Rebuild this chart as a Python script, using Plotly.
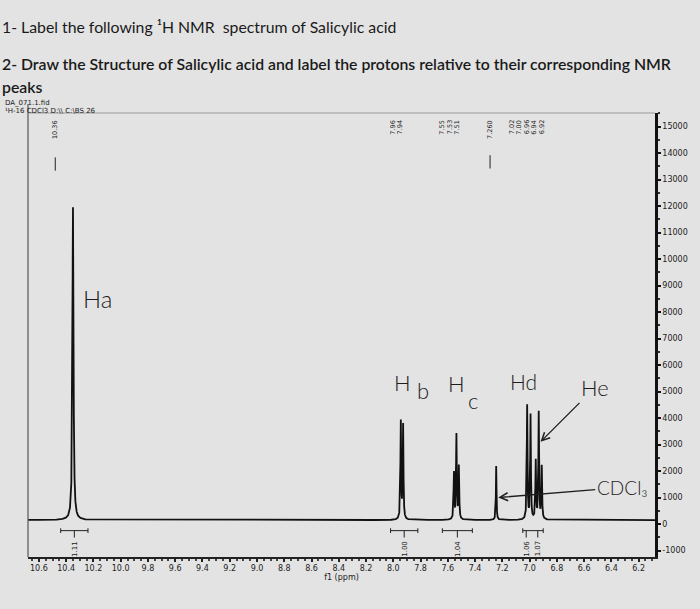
import numpy as np
import plotly.graph_objects as go

# ---------------- data ----------------
peak_ppm = [10.35, 7.945, 7.928, 7.555, 7.537, 7.519, 7.245, 7.018, 6.993, 6.955, 6.933, 6.911]
peak_height = [11800, 3700, 3550, 1750, 3200, 2000, 2050, 4300, 3950, 2200, 4050, 2000]
peak_hwhm = [0.0045, 0.003, 0.003, 0.003, 0.003, 0.003, 0.0025, 0.003, 0.003, 0.003, 0.003, 0.003]
baseline_level = 150

x_ticks = [10.6, 10.4, 10.2, 10.0, 9.8, 9.6, 9.4, 9.2, 9.0, 8.8, 8.6, 8.4, 8.2,
           8.0, 7.8, 7.6, 7.4, 7.2, 7.0, 6.8, 6.6, 6.4, 6.2]
y_ticks = list(range(-1000, 15001, 1000))

# integral regions (ppm from, ppm to, stems, labels)
integral_from = [10.44, 8.02, 7.64, 7.05]
integral_to = [10.24, 7.82, 7.42, 6.90]
integral_stems = [[10.34], [7.92], [7.53], [7.025, 6.94]]
integral_labels = [["1.11"], ["1.00"], ["1.04"], ["1.06", "1.07"]]

# peak pick labels on the top
pick_pos = [10.48, 8.0, 7.95, 7.64, 7.585, 7.53, 7.29, 7.13, 7.075, 7.02, 6.965, 6.91]
pick_text = ["10.36", "7.96", "7.94", "7.55", "7.53", "7.51", "7.260", "7.02",
             "7.00", "6.96", "6.94", "6.92"]

# handwritten labels (letters placed separately, like the hand-written subscripts)
hand_text = ["Ha", "H", "b", "H", "c", "Hd"]
hand_ppm = [10.17, 7.936, 7.78, 7.535, 7.415, 7.045]
hand_val = [8500, 5350, 5050, 5300, 4650, 5380]
hand_size = [24, 22, 22, 22, 22, 21]

# ---------------- spectrum ----------------
x = np.arange(6.08, 10.68, 0.0004)
y = np.full_like(x, baseline_level, dtype=float)
for p, h, g in zip(peak_ppm, peak_height, peak_hwhm):
    y += h * g * g / ((x - p) ** 2 + g * g)

fig = go.Figure()
fig.add_trace(go.Scatter(x=x, y=y, mode="lines",
                         line=dict(color="#111111", width=1.8),
                         hoverinfo="skip", showlegend=False))

bg = "#e3e3e3"
fig.update_layout(
    width=700, height=609,
    margin=dict(l=28, r=45, t=113, b=52),
    paper_bgcolor=bg, plot_bgcolor=bg,
    showlegend=False,
    font=dict(family="DejaVu Sans", color="#111"),
)
fig.update_xaxes(
    range=[10.68, 6.08], tickvals=x_ticks,
    ticktext=[f"{v:.1f}" for v in x_ticks],
    ticks="outside", ticklen=3, tickwidth=1.5, tickcolor="#222",
    minor=dict(dtick=0.05, ticks="outside", ticklen=2, tickcolor="#444"),
    showline=True, linecolor="#222", linewidth=1.5,
    showgrid=False, zeroline=False,
    tickfont=dict(size=8, color="#222", family="DejaVu Sans"),
    title=dict(text="f1 (ppm)", font=dict(size=8, color="#222"), standoff=2),
)
fig.update_yaxes(
    range=[-1245, 15510], side="right", tickvals=y_ticks,
    ticktext=[str(v) for v in y_ticks],
    ticks="outside", ticklen=3, tickwidth=1.5, tickcolor="#111",
    minor=dict(dtick=500, ticks="outside", ticklen=2, tickcolor="#333"),
    showline=True, linecolor="#111", linewidth=2.5,
    showgrid=False, zeroline=False,
    tickfont=dict(size=8, color="#222", family="DejaVu Sans"),
)

shapes = []
# left and top frame
shapes.append(dict(type="line", xref="paper", yref="paper", x0=0, x1=0, y0=0, y1=1.02,
                   line=dict(color="#555", width=1.2)))
shapes.append(dict(type="line", xref="paper", yref="paper", x0=0, x1=1, y0=1.0, y1=1.0,
                   line=dict(color="#999", width=1)))

annotations = []
# integrals
for a, b, stems, labs in zip(integral_from, integral_to, integral_stems, integral_labels):
    yb = -250
    shapes.append(dict(type="line", x0=a, x1=b, y0=yb, y1=yb, line=dict(color="#222", width=1)))
    for e in (a, b):
        shapes.append(dict(type="line", x0=e, x1=e, y0=yb - 90, y1=yb + 90,
                           line=dict(color="#222", width=1)))
    for s, t in zip(stems, labs):
        shapes.append(dict(type="line", x0=s, x1=s, y0=yb, y1=yb - 260,
                           line=dict(color="#222", width=1)))
        annotations.append(dict(x=s, y=yb - 300, text=t, showarrow=False, textangle=-90,
                                yanchor="top", font=dict(size=7, color="#222")))

# peak pick labels
for p, t in zip(pick_pos, pick_text):
    annotations.append(dict(x=p, xref="x", y=1.0 - 0.012, yref="paper", text=t,
                            showarrow=False, textangle=-90, yanchor="top",
                            font=dict(size=6.5, color="#222")))
shapes.append(dict(type="line", x0=10.48, x1=10.48, xref="x", yref="paper",
                   y0=0.87, y1=0.9, line=dict(color="#222", width=1)))
shapes.append(dict(type="line", x0=7.29, x1=7.29, xref="x", yref="paper",
                   y0=0.875, y1=0.905, line=dict(color="#222", width=1)))

# handwritten labels
hand_font = dict(family="Lato", color="#1e1e1e", weight=300)
for t, p, v, s in zip(hand_text, hand_ppm, hand_val, hand_size):
    annotations.append(dict(x=p, y=v, text=t, showarrow=False, font=dict(size=s, **hand_font)))
# labels with arrows pointing at the peaks
annotations.append(dict(x=6.92, y=3100, ax=54, ay=-54, text="He", showarrow=True,
                        arrowhead=5, arrowsize=1.2, arrowwidth=1.3, arrowcolor="#1e1e1e",
                        font=dict(size=22, **hand_font)))
annotations.append(dict(x=7.23, y=1000, ax=124, ay=-10, text="CDCl₃", showarrow=True,
                        arrowhead=5, arrowsize=1.2, arrowwidth=1.3, arrowcolor="#1e1e1e",
                        font=dict(size=19, **hand_font)))

# document text
annotations.append(dict(xref="paper", yref="paper", x=-28 / 627, y=1 + (113 - 27) / 444,
                        xanchor="left", yanchor="middle", showarrow=False,
                        text="1- Label the following ¹H NMR  spectrum of Salicylic acid",
                        font=dict(size=15.8, family="Lato", color="#1a1a1a")))
annotations.append(dict(xref="paper", yref="paper", x=-28 / 627, y=1 + (113 - 63) / 444,
                        xanchor="left", yanchor="middle", showarrow=False,
                        text="2- Draw the Structure of Salicylic acid and label the protons relative to their corresponding NMR",
                        font=dict(size=15.8, family="Lato", color="#1a1a1a", weight=600)))
annotations.append(dict(xref="paper", yref="paper", x=-28 / 627, y=1 + (113 - 86) / 444,
                        xanchor="left", yanchor="middle", showarrow=False,
                        text="peaks", font=dict(size=15.8, family="Lato", color="#1a1a1a", weight=600)))
annotations.append(dict(xref="paper", yref="paper", x=-25 / 627, y=1 + (113 - 103) / 444,
                        xanchor="left", yanchor="middle", showarrow=False,
                        text="DA_071.1.fid", font=dict(size=7, color="#222")))
annotations.append(dict(xref="paper", yref="paper", x=-25 / 627, y=1 + (113 - 111) / 444,
                        xanchor="left", yanchor="middle", showarrow=False,
                        text="¹H-16 CDCl3 D:\\\\ C:\\BS 26", font=dict(size=7, color="#222")))

fig.update_layout(shapes=shapes, annotations=annotations)
fig.write_html("out.html")
